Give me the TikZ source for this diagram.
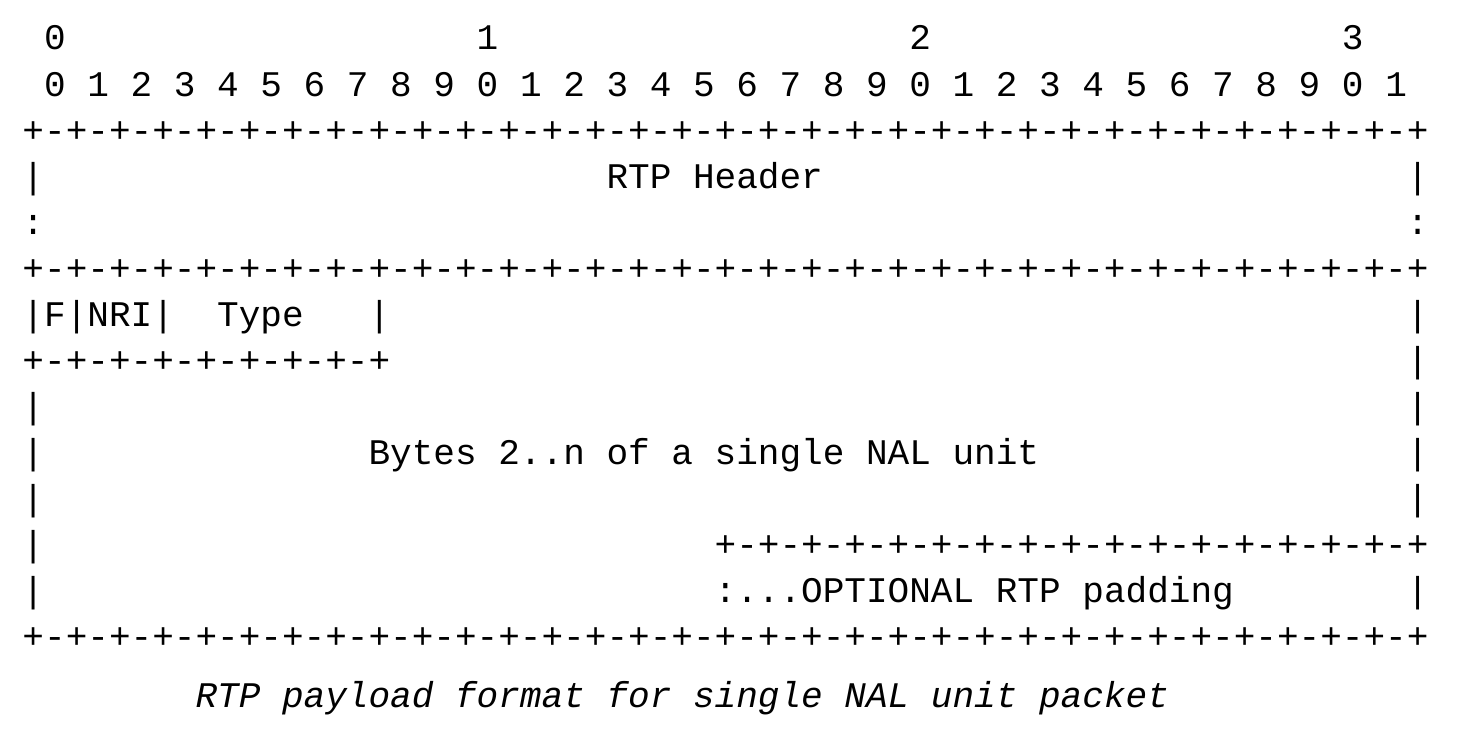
\documentclass[tikz,border=0pt]{standalone}
\usepackage{fontspec}
\newfontfamily\asciimono{Liberation Mono}
\tikzset{
  asc/.style={anchor=base west, inner sep=0pt, outer sep=0pt, text=black,
    font=\asciimono\fontsize{36.05}{46}\selectfont},
  capt/.style={asc, font=\asciimono\itshape\fontsize{36.05}{46}\selectfont}
}
\def\fourbits{+-+-+-+-}
\newcommand\asciiat[4]{\node[asc] (#1) at ({22.5+21.63*(#2)},{50+46*(#3)}) {#4};}
\begin{document}
\begin{tikzpicture}[x=1pt,y=-1pt]
\fill[white] (0,0) rectangle (1460,752);
\useasboundingbox (0,0) rectangle (1460,752);
% row 0
\asciiat{ra}{1}{0}{0}
\asciiat{rb}{21}{0}{1}
\asciiat{rc}{41}{0}{2}
\asciiat{rd}{61}{0}{3}
% row 1
\asciiat{bits}{1}{1}{0 1 2 3 4 5 6 7 8 9 0 1 2 3 4 5 6 7 8 9 0 1 2 3 4 5 6 7 8 9 0 1}
% row 2
\asciiat{sepa}{0}{2}{\fourbits\fourbits\fourbits\fourbits\fourbits\fourbits\fourbits\fourbits+}
% row 3
\asciiat{hl}{0}{3}{|}
\asciiat{hdr}{27}{3}{RTP Header}
\asciiat{hr}{64}{3}{|}
% row 4
\asciiat{cl}{0}{4}{:}
\asciiat{cr}{64}{4}{:}
% row 5
\asciiat{sepb}{0}{5}{\fourbits\fourbits\fourbits\fourbits\fourbits\fourbits\fourbits\fourbits+}
% row 6
\asciiat{fnri}{0}{6}{|F|NRI|}
\asciiat{type}{9}{6}{Type}
\asciiat{tbar}{16}{6}{|}
\asciiat{r6r}{64}{6}{|}
% row 7
\asciiat{sepc}{0}{7}{\fourbits\fourbits+}
\asciiat{r7r}{64}{7}{|}
% row 8
\asciiat{r8l}{0}{8}{|}
\asciiat{r8r}{64}{8}{|}
% row 9
\asciiat{r9l}{0}{9}{|}
\asciiat{bytes}{16}{9}{Bytes 2..n of a single NAL unit}
\asciiat{r9r}{64}{9}{|}
% row 10
\asciiat{r10l}{0}{10}{|}
\asciiat{r10r}{64}{10}{|}
% row 11
\asciiat{r11l}{0}{11}{|}
\asciiat{sepd}{32}{11}{\fourbits\fourbits\fourbits\fourbits+}
% row 12
\asciiat{r12l}{0}{12}{|}
\asciiat{pad}{32}{12}{:...OPTIONAL RTP padding}
\asciiat{r12r}{64}{12}{|}
% row 13
\asciiat{sepe}{0}{13}{\fourbits\fourbits\fourbits\fourbits\fourbits\fourbits\fourbits\fourbits+}
% caption
\node[capt] (caption) at ({22.5+21.63*8},707) {RTP payload format for single NAL unit packet};
\end{tikzpicture}
\end{document}
